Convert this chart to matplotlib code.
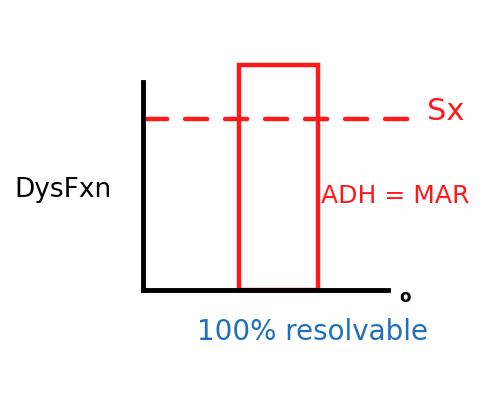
import matplotlib
matplotlib.use("Agg")
import matplotlib.pyplot as plt

# data
bar_labels = ["ADH = MAR"]
bar_left = [3.9]
bar_width = [3.25]
bar_height = [10.8]
threshold = 8.2
threshold_label = "Sx"
y_label = "DysFxn"
x_label = "100% resolvable"
origin_label = "o"

red = "#ff1a1a"
blue = "#1f6fbf"

fig = plt.figure(figsize=(5, 4), dpi=100)
ax = fig.add_axes([0.286, 0.275, 0.49, 0.52])
ax.set_xlim(0, 10)
ax.set_ylim(0, 10)

ax.bar(bar_left, bar_height, width=bar_width, align="edge", fill=False,
       edgecolor=red, linewidth=3.2, clip_on=False, zorder=1)
ax.plot([0.1, 11.3], [threshold, threshold], color=red, linewidth=3.2,
        linestyle=(0, (5, 4)), clip_on=False, dash_capstyle="round")

for s in ["top", "right"]:
    ax.spines[s].set_visible(False)
for s in ["left", "bottom"]:
    ax.spines[s].set_linewidth(3.5)
    ax.spines[s].set_color("black")
ax.set_xticks([])
ax.set_yticks([])

ax.text(11.6, threshold + 0.4, threshold_label, color=red, fontsize=22,
        va="center", ha="left")
ax.text(7.25, 4.5, bar_labels[0], color=red, fontsize=18, va="center", ha="left")
ax.text(-1.3, 4.8, y_label, color="black", fontsize=19, va="center", ha="right")
ax.text(2.2, -2.0, x_label, color=blue, fontsize=20, va="center", ha="left")
ax.text(10.7, -0.35, origin_label, color="black", fontsize=12, va="center",
        ha="center", fontweight="bold")

fig.savefig("out.png", dpi=100, facecolor="white")
